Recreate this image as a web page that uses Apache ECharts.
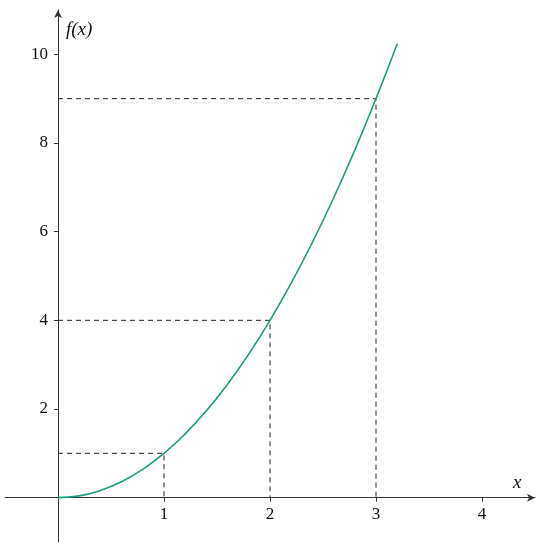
<!DOCTYPE html>
<html>
<head>
<meta charset="utf-8">
<script src="https://cdn.jsdelivr.net/npm/echarts@6/dist/echarts.min.js"></script>
<style>html,body{margin:0;padding:0;background:#fff}#main{width:550px;height:552px}</style>
</head>
<body>
<div id="main"></div>
<script>
// curve points
var curveX = [0, 0.2, 0.4, 0.6, 0.8, 1, 1.2, 1.4, 1.6, 1.8, 2, 2.2, 2.4, 2.6, 2.8, 3, 3.2];
var curveY = [0, 0.04, 0.16, 0.36, 0.64, 1, 1.44, 1.96, 2.56, 3.24, 4, 4.84, 5.76, 6.76, 7.84, 9, 10.24];
var markX = [1, 2, 3];
var markY = [1, 4, 9];
var xTicks = [1, 2, 3, 4];
var yTicks = [2, 4, 6, 8, 10];

var myChart = echarts.init(document.getElementById('main'));
var font = 'Liberation Serif';

var series = [{
    type: 'line',
    data: curveX.map(function (x, i) { return [x, curveY[i]]; }),
    smooth: true,
    symbol: 'none',
    lineStyle: { color: '#1b9b80', width: 1.6 },
    z: 5
}];
markX.forEach(function (x, i) {
    series.push({
        type: 'line',
        data: [[0, markY[i]], [x, markY[i]], [x, 0]],
        symbol: 'none',
        lineStyle: { color: '#222', width: 1, type: [5, 4] }
    });
});

var option = {
    animation: false,
    grid: { left: 5, right: 15, top: 10, bottom: 10, containLabel: false, outerBoundsMode: 'none' },
    xAxis: {
        type: 'value', min: -0.5, max: 4.5,
        offset: -44.33,
        splitLine: { show: false },
        axisLine: { onZero: false, lineStyle: { color: '#333' }, symbol: ['none', 'arrow'], symbolSize: [6, 8] },
        axisTick: { customValues: xTicks, length: 4, lineStyle: { color: '#333' } },
        axisLabel: { customValues: xTicks, fontFamily: font, fontSize: 17, color: '#111', margin: 8 }
    },
    yAxis: {
        type: 'value', min: -1, max: 11,
        offset: -53,
        splitLine: { show: false },
        axisLine: { onZero: false, lineStyle: { color: '#333' }, symbol: ['none', 'arrow'], symbolSize: [6, 8] },
        axisTick: { customValues: yTicks, length: 4, lineStyle: { color: '#333' } },
        axisLabel: { customValues: yTicks, fontFamily: font, fontSize: 17, color: '#111', margin: 10 }
    },
    graphic: [
        { type: 'text', left: 66, top: 20, style: { text: 'f(x)', font: 'italic 19px ' + font, fill: '#111' } },
        { type: 'text', left: 513, top: 473, style: { text: 'x', font: 'italic 19px ' + font, fill: '#111' } }
    ],
    series: series
};
myChart.setOption(option);
</script>
</body>
</html>
